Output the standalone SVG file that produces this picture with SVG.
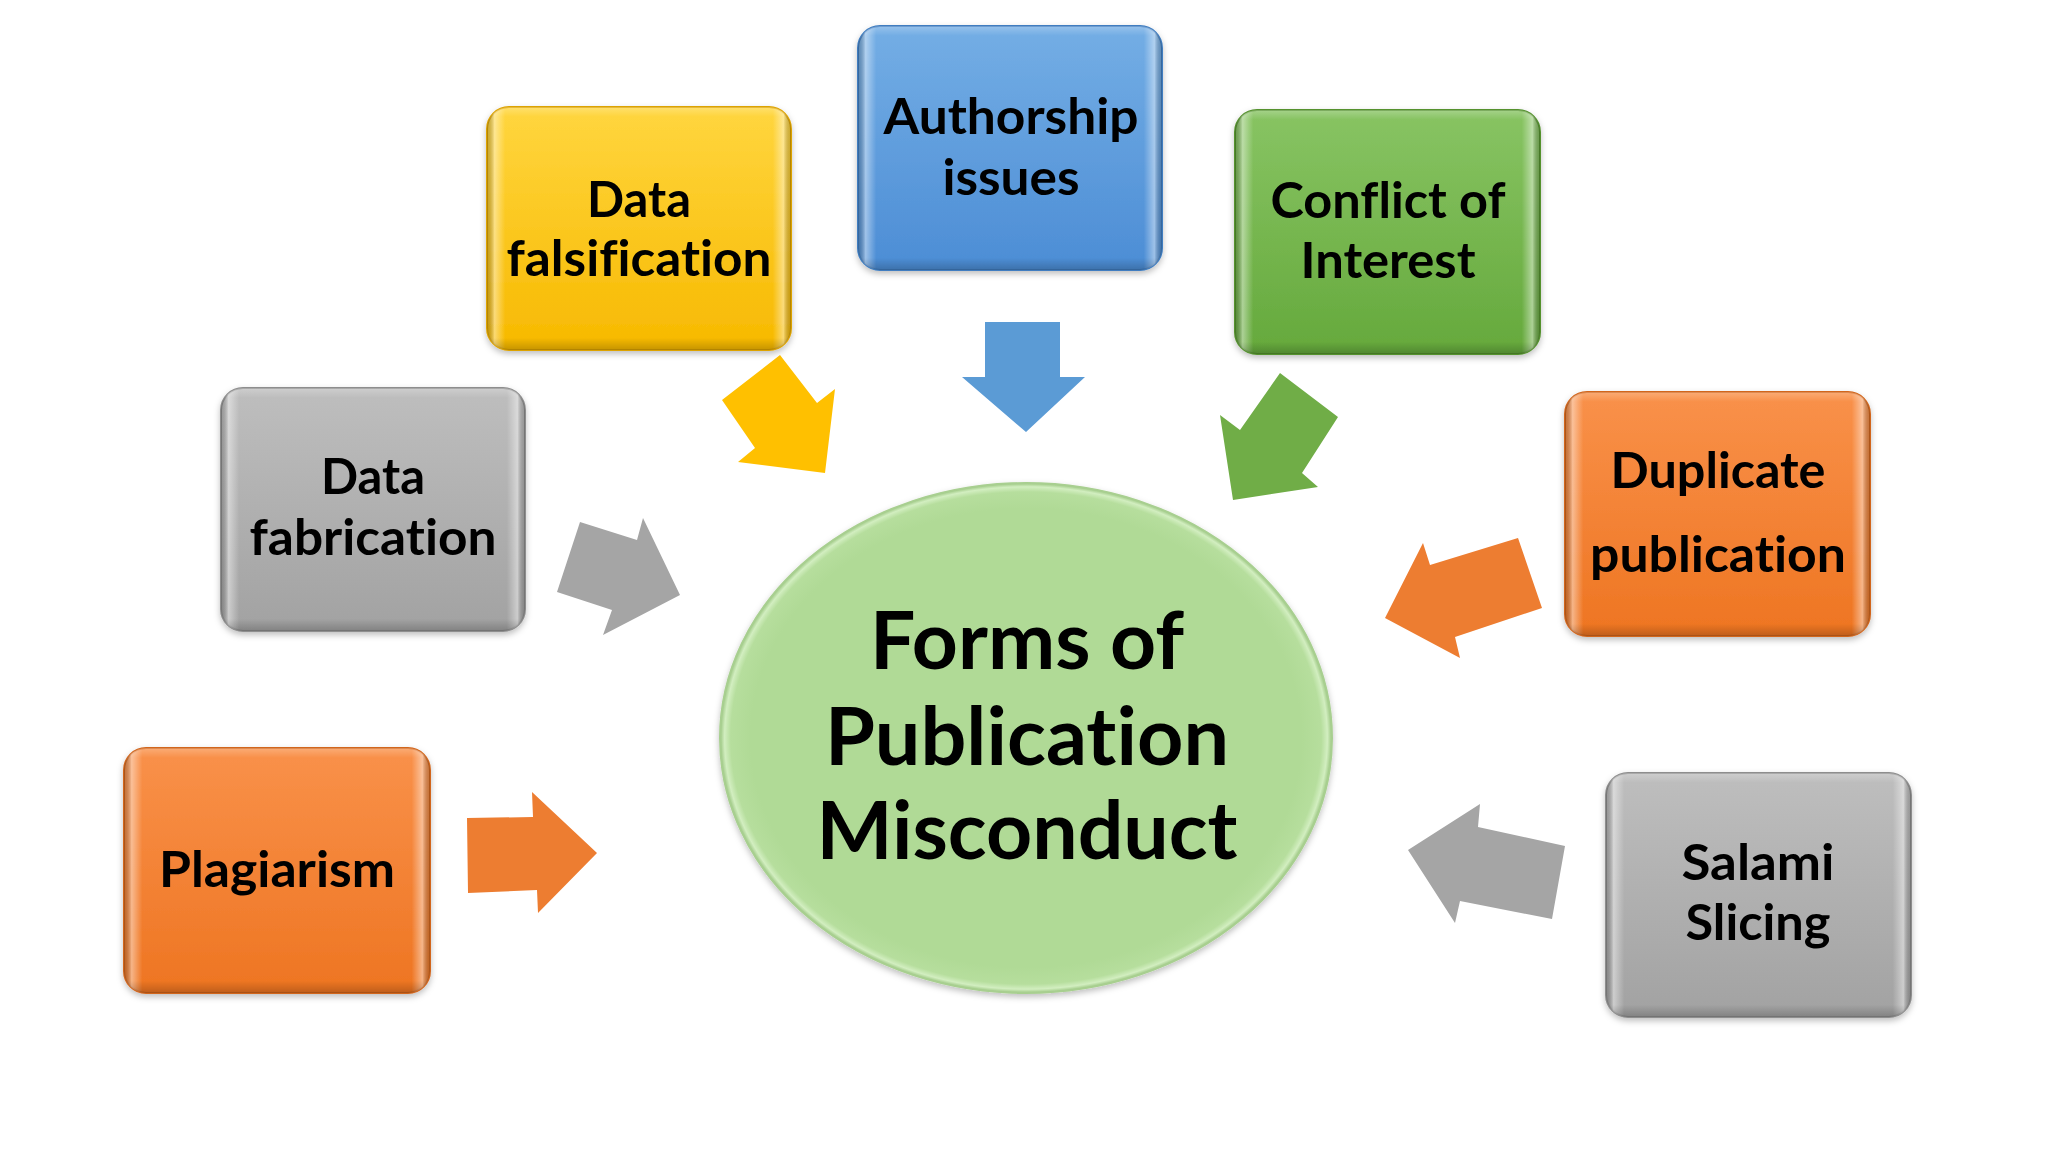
<svg xmlns="http://www.w3.org/2000/svg" width="2048" height="1152" viewBox="0 0 2048 1152">
<defs>
<linearGradient id="gY" x1="0" y1="0" x2="0" y2="1"><stop offset="0" stop-color="#FFD63F"/><stop offset="1" stop-color="#F7B900"/></linearGradient>
<linearGradient id="gB" x1="0" y1="0" x2="0" y2="1"><stop offset="0" stop-color="#74AEE5"/><stop offset="1" stop-color="#4C8DD5"/></linearGradient>
<linearGradient id="gG" x1="0" y1="0" x2="0" y2="1"><stop offset="0" stop-color="#88C463"/><stop offset="1" stop-color="#65A93C"/></linearGradient>
<linearGradient id="gS" x1="0" y1="0" x2="0" y2="1"><stop offset="0" stop-color="#BEBEBE"/><stop offset="1" stop-color="#A2A2A2"/></linearGradient>
<linearGradient id="gO" x1="0" y1="0" x2="0" y2="1"><stop offset="0" stop-color="#F9914A"/><stop offset="1" stop-color="#EE7522"/></linearGradient>
<linearGradient id="bevH" x1="0" y1="0" x2="1" y2="0">
<stop offset="0" stop-color="#000" stop-opacity="0.18"/><stop offset="0.025" stop-color="#fff" stop-opacity="0.45"/><stop offset="0.06" stop-color="#fff" stop-opacity="0"/>
<stop offset="0.94" stop-color="#fff" stop-opacity="0"/><stop offset="0.975" stop-color="#fff" stop-opacity="0.45"/><stop offset="1" stop-color="#000" stop-opacity="0.18"/>
</linearGradient>
<linearGradient id="bevV" x1="0" y1="0" x2="0" y2="1">
<stop offset="0" stop-color="#fff" stop-opacity="0.25"/><stop offset="0.04" stop-color="#fff" stop-opacity="0"/>
<stop offset="0.95" stop-color="#000" stop-opacity="0"/><stop offset="1" stop-color="#000" stop-opacity="0.2"/>
</linearGradient>
<radialGradient id="gE" cx="0.5" cy="0.5" r="0.5">
<stop offset="0.9" stop-color="#B0DA96"/><stop offset="0.965" stop-color="#B6DE9D"/><stop offset="0.985" stop-color="#D2EEC0"/><stop offset="1" stop-color="#9CC782"/>
</radialGradient>
<filter id="sh" x="-10%" y="-10%" width="120%" height="125%"><feDropShadow dx="0" dy="3" stdDeviation="3" flood-color="#000" flood-opacity="0.25"/></filter>
</defs>
<style>
.lbl{font-family:Lato,"Open Sans","Liberation Sans",sans-serif;font-weight:bold;font-size:50px;fill:#000;text-anchor:middle;font-variant-ligatures:none;font-feature-settings:"liga" 0,"clig" 0}
.big{font-family:Lato,"Open Sans","Liberation Sans",sans-serif;font-weight:bold;font-size:80px;fill:#000;text-anchor:middle;font-variant-ligatures:none;font-feature-settings:"liga" 0,"clig" 0}
.bev{fill:url(#bevH)}
.bevv{fill:url(#bevV)}
.arr{stroke:none}
</style>
<rect width="2048" height="1152" fill="#FFFFFF"/>

<g id="connectors">
<polygon class="arr" fill="#FFC000" points="780,355 817,403 835,389 825,473 738,462 755,448 722,400"/>
<polygon class="arr" fill="#5B9BD5" points="985,322 1060,322 1060,377 1085,377 1026,432 962,377 985,377"/>
<polygon class="arr" fill="#70AD47" points="1280,373 1338,417 1302,473 1318,487 1233,500 1220,415 1240,430"/>
<polygon class="arr" fill="#A5A5A5" points="580,522 637,540 643,518 680,595 603,635 612,610 557,592"/>
<polygon class="arr" fill="#ED7D31" points="1518,538 1542,608 1455,637 1460,658 1385,618 1423,543 1430,565"/>
<polygon class="arr" fill="#ED7D31" points="467,818 533,817 532,792 597,853 538,913 537,890 468,893"/>
<polygon class="arr" fill="#A5A5A5" points="1565,846 1552,919 1460,901 1455,923 1408,850 1480,804 1478,827"/>
</g>

<g id="center">
<ellipse cx="1026" cy="738" rx="306" ry="255" fill="url(#gE)" stroke="#A8CF90" stroke-width="2" filter="url(#sh)"/>
<text class="big" x="1027" y="669" textLength="314" lengthAdjust="spacingAndGlyphs">Forms of</text>
<text class="big" x="1027" y="765" textLength="404" lengthAdjust="spacingAndGlyphs">Publication</text>
<text class="big" x="1027" y="859" textLength="421" lengthAdjust="spacingAndGlyphs">Misconduct</text>
</g>

<g id="data-falsification">
<rect x="487" y="107" width="304" height="243" rx="22" fill="url(#gY)" stroke="#DDA300" stroke-width="2" filter="url(#sh)"/>
<rect class="bev" x="487" y="107" width="304" height="243" rx="22"/>
<rect class="bevv" x="487" y="107" width="304" height="243" rx="22"/>
<text class="lbl" x="639" y="217" textLength="104" lengthAdjust="spacingAndGlyphs">Data</text>
<text class="lbl" x="639" y="276" textLength="265" lengthAdjust="spacingAndGlyphs">falsification</text>
</g>

<g id="authorship-issues">
<rect x="858" y="26" width="304" height="244" rx="22" fill="url(#gB)" stroke="#3F7DC0" stroke-width="2" filter="url(#sh)"/>
<rect class="bev" x="858" y="26" width="304" height="244" rx="22"/>
<rect class="bevv" x="858" y="26" width="304" height="244" rx="22"/>
<text class="lbl" x="1011" y="134" textLength="255" lengthAdjust="spacingAndGlyphs">Authorship</text>
<text class="lbl" x="1011" y="195" textLength="137" lengthAdjust="spacingAndGlyphs">issues</text>
</g>

<g id="conflict-of-interest">
<rect x="1235" y="110" width="305" height="244" rx="22" fill="url(#gG)" stroke="#55922F" stroke-width="2" filter="url(#sh)"/>
<rect class="bev" x="1235" y="110" width="305" height="244" rx="22"/>
<rect class="bevv" x="1235" y="110" width="305" height="244" rx="22"/>
<text class="lbl" x="1388" y="218" textLength="235" lengthAdjust="spacingAndGlyphs">Conflict of</text>
<text class="lbl" x="1388" y="278" textLength="175" lengthAdjust="spacingAndGlyphs">Interest</text>
</g>

<g id="data-fabrication">
<rect x="221" y="388" width="304" height="243" rx="22" fill="url(#gS)" stroke="#8E8E8E" stroke-width="2" filter="url(#sh)"/>
<rect class="bev" x="221" y="388" width="304" height="243" rx="22"/>
<rect class="bevv" x="221" y="388" width="304" height="243" rx="22"/>
<text class="lbl" x="373" y="494" textLength="104" lengthAdjust="spacingAndGlyphs">Data</text>
<text class="lbl" x="373" y="555" textLength="247" lengthAdjust="spacingAndGlyphs">fabrication</text>
</g>

<g id="duplicate-publication">
<rect x="1565" y="392" width="305" height="244" rx="22" fill="url(#gO)" stroke="#D2661C" stroke-width="2" filter="url(#sh)"/>
<rect class="bev" x="1565" y="392" width="305" height="244" rx="22"/>
<rect class="bevv" x="1565" y="392" width="305" height="244" rx="22"/>
<text class="lbl" x="1718" y="488" textLength="215" lengthAdjust="spacingAndGlyphs">Duplicate</text>
<text class="lbl" x="1718" y="572" textLength="256" lengthAdjust="spacingAndGlyphs">publication</text>
</g>

<g id="plagiarism">
<rect x="124" y="748" width="306" height="245" rx="22" fill="url(#gO)" stroke="#D2661C" stroke-width="2" filter="url(#sh)"/>
<rect class="bev" x="124" y="748" width="306" height="245" rx="22"/>
<rect class="bevv" x="124" y="748" width="306" height="245" rx="22"/>
<text class="lbl" x="277" y="887" textLength="236" lengthAdjust="spacingAndGlyphs">Plagiarism</text>
</g>

<g id="salami-slicing">
<rect x="1606" y="773" width="305" height="244" rx="22" fill="url(#gS)" stroke="#8E8E8E" stroke-width="2" filter="url(#sh)"/>
<rect class="bev" x="1606" y="773" width="305" height="244" rx="22"/>
<rect class="bevv" x="1606" y="773" width="305" height="244" rx="22"/>
<text class="lbl" x="1758" y="880" textLength="153" lengthAdjust="spacingAndGlyphs">Salami</text>
<text class="lbl" x="1758" y="940" textLength="145" lengthAdjust="spacingAndGlyphs">Slicing</text>
</g>
</svg>
